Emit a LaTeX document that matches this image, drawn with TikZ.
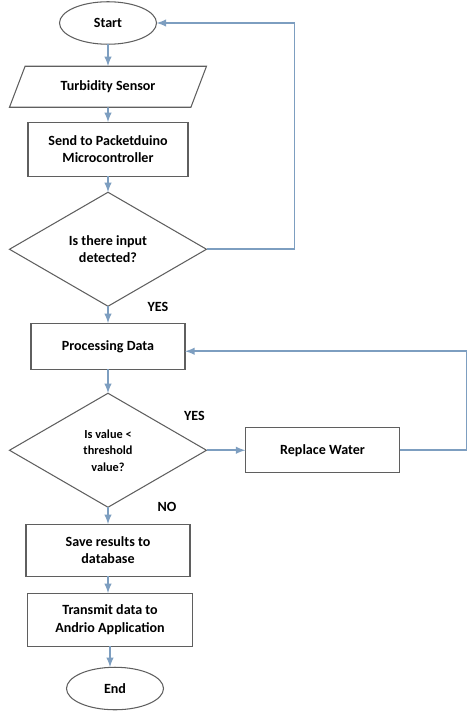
\documentclass[tikz,border=0pt]{standalone}
\usepackage{fontspec}
\setmainfont{Carlito}
\usepackage{tikz}
\usetikzlibrary{shapes,arrows}
\usetikzlibrary{positioning}
\usetikzlibrary{calc}
\definecolor{myline}{RGB}{95,95,95}
\definecolor{myarrow}{RGB}{125,158,192}

\begin{document}
\begin{tikzpicture}[>=latex, auto,
node distance= 0.34 cm,
mybase/.style={
  draw=myline,
  line width=0.6pt,
  font=\fontsize{8}{9.8}\selectfont\bfseries,
  align=center,
  inner sep=1pt,
  outer sep=0pt},
myterm/.style={mybase, ellipse, minimum width=1.94cm, minimum height=0.85cm},
myio/.style={mybase, trapezium, trapezium left angle=45, trapezium right angle=135,
  trapezium stretches body, minimum width=3.94cm, minimum height=0.82cm},
myproc/.style={mybase, rectangle},
mydec/.style={mybase, diamond, shape aspect=1.73, minimum width=3.94cm, minimum height=2.28cm},
mylabel/.style={font=\fontsize{8}{9.8}\selectfont\bfseries},
flow/.style={->, draw=myarrow, line width=0.9pt}
]
\path[use as bounding box] (-2.16,0.46) rectangle (7.32,-13.78);
\node[myterm] (start) {Start};
\node[myio, below=0.44cm of start] (sensor) {Turbidity Sensor};
\node[myproc, minimum width=3.2cm, minimum height=1.08cm, below=0.3cm of sensor] (send) {Send to Packetduino\\Microcontroller};
\node[mydec, below=0.32cm of send] (input) {Is there input\\detected?};
\node[myproc, minimum width=3.08cm, minimum height=0.92cm, below=of input] (proc) {Processing Data};
\node[mydec, below=0.48cm of proc, font=\fontsize{7}{9.4}\selectfont\bfseries] (check) {Is value <\\threshold\\value?};
\node[myproc, minimum width=3.08cm, minimum height=0.9cm, right=0.78cm of check] (replace) {Replace Water};
\node[myproc, minimum width=3.28cm, minimum height=1.04cm, below=of check] (save) {Save results to\\database};
\node[myproc, minimum width=3.3cm, minimum height=1.06cm, below=of save, xshift=0.04cm] (transmit) {Transmit data to\\Andrio Application};
\node[myterm, below=0.42cm of transmit, xshift=0.1cm] (end) {End};
\node[mylabel] (yes1) at ($(input.south)+(1.0,-0.02)$) {YES};
\node[mylabel] (yes2) at ($(check.east)+(-0.24,0.68)$) {YES};
\node[mylabel] (no) at ($(check.south)+(1.18,0)$) {NO};
\draw[flow] (start) -- (sensor);
\draw[flow] (sensor) -- (send);
\draw[flow] (send) -- (input);
\draw[flow] (input) -- (proc);
\draw[flow] (proc) -- (check);
\draw[flow] (check) -- (replace);
\draw[flow] (check) -- (save);
\draw[flow] (save.south) -- (save.south |- transmit.north);
\draw[flow] (transmit.south) -- (transmit.south |- end.north);
\draw[flow] (input.east) -- ++(1.76,0) |- (start.east);
\draw[flow] (replace.east) -- ++(1.34,0) |- ($(proc.east)+(0,-0.1)$);
\end{tikzpicture}
\end{document}
